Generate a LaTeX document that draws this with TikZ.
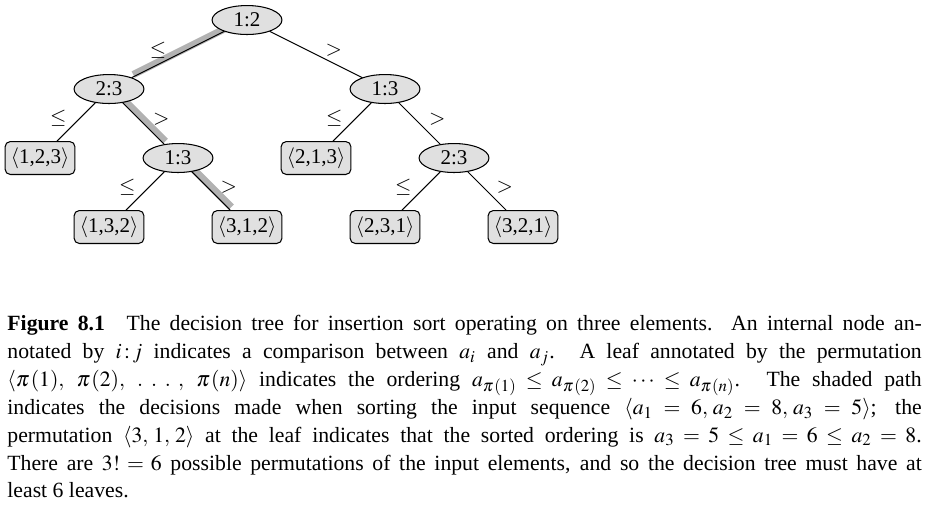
\documentclass[tikz,border=0pt]{standalone}
\usepackage{mathptmx}
\usepackage[no-math]{fontspec}
\setmainfont{Liberation Serif}
\DeclareMathSizes{10.35}{10.35}{8}{6}
\usetikzlibrary{shapes.geometric}
\usetikzlibrary{backgrounds}
\definecolor{nodegray}{gray}{0.88}
\definecolor{pathgray}{gray}{0.7}
\newcommand{\pip}[1]{\pi\mkern1mu(#1)}
\newcommand{\cspace}{\mkern8mu}
\newcommand{\sdots}{.\mkern6.5mu.\mkern6.5mu.\mkern6mu}
\tikzset{
  cmp/.style={ellipse,draw=black,fill=nodegray,line width=0.5pt,minimum width=33.3pt,minimum height=13.8pt,inner sep=0pt},
  leaf/.style={rectangle,rounded corners=2.5pt,draw=black,fill=nodegray,line width=0.5pt,minimum width=33.3pt,minimum height=15.7pt,inner sep=1pt},
  lelbl/.style={midway,xshift=-8.5pt,yshift=2pt},
  gtlbl/.style={midway,xshift=8.5pt,yshift=2pt}
}

\begin{document}
\begin{tikzpicture}[line cap=round,line join=round,x=1.1556cm,y=1.1556cm]
\useasboundingbox (-0.580,-4.101) rectangle (12.884,3.290);
% comparisons
\node[cmp] (c12) at (3,3) {1:2};
\node[cmp] (c23a) at (1,2) {2:3};
\node[cmp] (c13b) at (5,2) {1:3};
\node[cmp] (c13a) at (2,1) {1:3};
\node[cmp] (c23b) at (6,1) {2:3};
% leaves
\node[leaf] (p123) at (0,1) {$\langle$1,2,3$\rangle$};
\node[leaf] (p213) at (4,1) {$\langle$2,1,3$\rangle$};
\foreach \x/\n/\t in {1/p132/{1,3,2},3/p312/{3,1,2},5/p231/{2,3,1},7/p321/{3,2,1}}
  \node[leaf] (\n) at (\x,0) {$\langle$\t$\rangle$};
% shaded path
\begin{scope}[on background layer]
\draw[pathgray,line width=3.4pt,transform canvas={shift={(0.6pt,1.4pt)}}] (c12) -- (c23a) (c23a) -- (c13a) (c13a) -- (p312);
\end{scope}
% edges
\draw[line width=0.5pt] (c12) -- node[lelbl,xshift=-1pt] {$\le$} (c23a);
\draw[line width=0.5pt] (c12) -- node[gtlbl] {$>$} (c13b);
\draw[line width=0.5pt] (c23a) -- node[lelbl] {$\le$} (p123);
\draw[line width=0.5pt] (c23a) -- node[gtlbl] {$>$} (c13a);
\draw[line width=0.5pt] (c13b) -- node[lelbl] {$\le$} (p213);
\draw[line width=0.5pt] (c13b) -- node[gtlbl] {$>$} (c23b);
\draw[line width=0.5pt] (c13a) -- node[lelbl] {$\le$} (p132);
\draw[line width=0.5pt] (c13a) -- node[gtlbl] {$>$} (p312);
\draw[line width=0.5pt] (c23b) -- node[lelbl] {$\le$} (p231);
\draw[line width=0.5pt] (c23b) -- node[gtlbl] {$>$} (p321);
% caption
\node[anchor=base west,inner sep=0pt,text width=435.7pt,align=justify,font=\fontsize{10.35}{13.25}\selectfont] (cap) at (-0.478,-1.507) {\textbf{Figure 8.1}\quad The decision tree for insertion sort operating on three elements. An internal node an-\linebreak
notated by $i\,{:}\,j$ indicates a comparison between $a_i$ and $a_j$. A leaf annotated by the permutation\linebreak
$\langle \pip{1},\cspace \pip{2},\cspace \sdots,\cspace \pip{n}\rangle$ indicates the ordering $a_{\pip{1}} \le a_{\pip{2}} \le \cdots \le a_{\pip{n}}$. The shaded path\linebreak
indicates the decisions made when sorting the input sequence $\langle a_1 = 6,\, a_2 = 8,\, a_3 = 5\rangle$; the\linebreak
permutation $\langle 3,\, 1,\, 2\rangle$ at the leaf indicates that the sorted ordering is $a_3 = 5 \le a_1 = 6 \le a_2 = 8$.\linebreak
There are $3! = 6$ possible permutations of the input elements, and so the decision tree must have at\linebreak
least 6 leaves.};
\end{tikzpicture}
\end{document}
